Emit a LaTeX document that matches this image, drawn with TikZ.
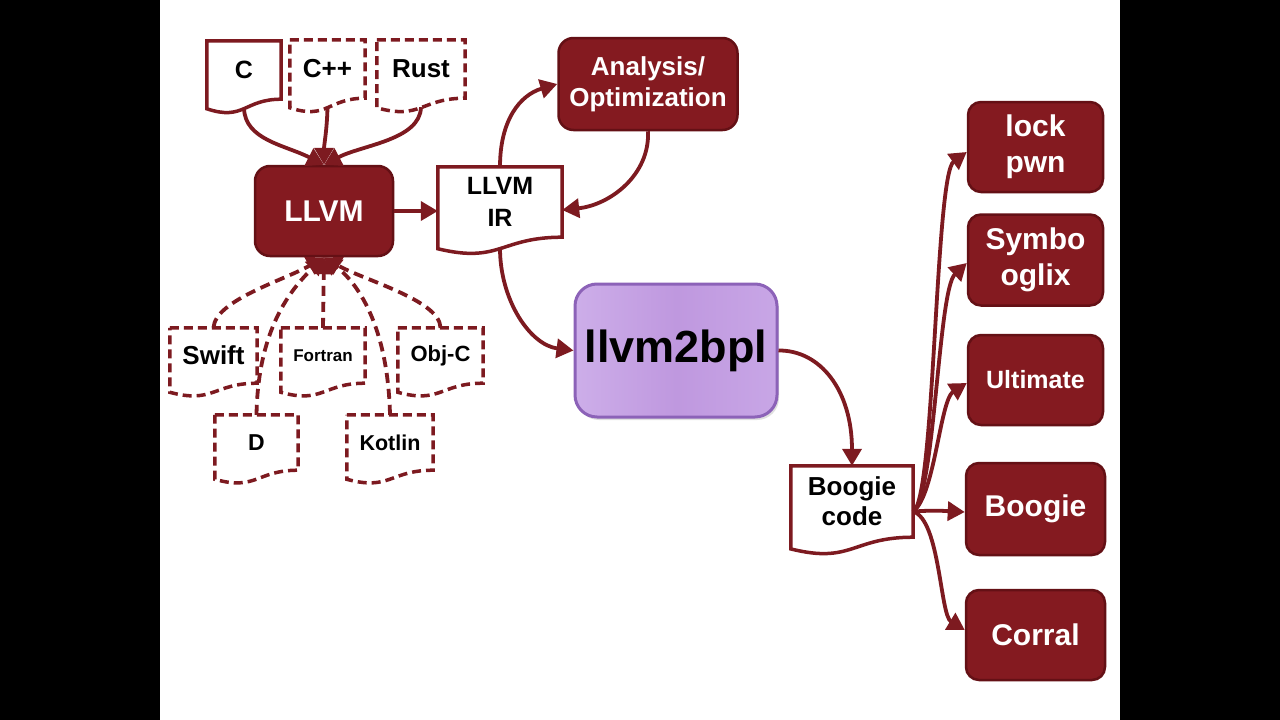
\documentclass[tikz,border=0pt]{standalone}
\usepackage{fontspec}
\setmainfont{Liberation Sans}
\usetikzlibrary{arrows.meta,calc,shadows}
\definecolor{myred}{RGB}{132,26,32}
\definecolor{myredd}{RGB}{100,16,21}
\definecolor{lnred}{RGB}{125,26,32}
\definecolor{pborder}{RGB}{140,98,184}
\definecolor{plight}{RGB}{205,174,233}
\definecolor{pmid}{RGB}{191,152,223}
\definecolor{pright}{RGB}{200,166,230}
\newcommand\fsz[2]{\fontsize{#1}{#2}\selectfont}
% #1 path opts, #2 node opts, #3 name, #4 cx, #5 cy, #6 w, #7 flat height, #8 text
\newcommand\docnode[8]{%
  \node[docn,#2,minimum width=#6pt,minimum height=#7pt] (#3) at (#4,#5) {#8};
  \draw[docline,#1] (#3.north west) -- (#3.north east) -- (#3.south east)
    .. controls (#3.south) and ([yshift=-0.38*#7pt]#3.south) .. ([yshift=-0.165*#7pt]#3.south west) -- cycle;
}
\begin{document}
\begin{tikzpicture}[x=1pt,y=-1pt,
  tool/.style={draw=myredd, fill=myred, line width=2.5pt, rounded corners=13pt, text=white,
    font=\bfseries\fsz{30}{36}, align=center, inner sep=0pt, minimum width=135pt, minimum height=90pt},
  docn/.style={inner sep=0pt, align=center, font=\bfseries\fsz{26}{31}},
  docline/.style={draw=lnred, line width=3.5pt},
  dsh/.style={dash pattern=on 9pt off 5pt},
  conn/.style={draw=lnred, line width=3.8pt, -{Triangle[length=17pt,width=19pt]}},
  dconn/.style={conn, dash pattern=on 10pt off 6pt}]
\useasboundingbox (0,0) rectangle (1280,720);
\fill[black] (0,0) rectangle (1280,720);
\fill[white] (160,0) rectangle (1120,720);

% documents
\docnode{}{font=\bfseries\fsz{25}{30}}{C}{244}{70}{74}{58}{C}
\docnode{dsh}{}{Cpp}{327.5}{69}{75}{58}{C++}
\docnode{dsh}{}{Rust}{421}{69}{88}{58}{Rust}
\docnode{dsh}{}{Swift}{213.5}{355.5}{87}{55}{Swift}
\docnode{dsh}{font=\bfseries\fsz{17}{20}}{Fortran}{323}{355.5}{84}{55}{Fortran}
\docnode{dsh}{font=\bfseries\fsz{22}{26}}{ObjC}{440.5}{355.5}{85}{55}{Obj-C}
\docnode{dsh}{font=\bfseries\fsz{23}{28}}{D}{256.5}{442.5}{83}{55}{D}
\docnode{dsh}{font=\bfseries\fsz{21.5}{26}}{Kotlin}{390}{442.5}{86}{55}{Kotlin}
\docnode{}{font=\bfseries\fsz{25}{32}}{IR}{500}{202}{124}{70}{LLVM\\IR}
\docnode{}{font=\bfseries\fsz{26}{30}}{BC}{852}{501.5}{122}{71}{Boogie\\code}

% filled boxes
\node[tool, minimum width=138pt, rounded corners=15pt] (LLVM) at (324,211) {LLVM};
\node[tool, minimum width=179pt, minimum height=92pt, rounded corners=15pt,
  font=\bfseries\fsz{26}{31}] (AO) at (648,84) {Analysis/\\Optimization};
\node[tool] (LP) at (1035.5,147) {lock\\pwn};
\node[tool, minimum height=91pt] (SY) at (1035.5,260) {Symbo\\oglix};
\node[tool, font=\bfseries\fsz{25}{30}] (UL) at (1035.5,380) {Ultimate};
\node[tool, minimum width=139pt, minimum height=92pt] (BO) at (1035.5,509) {Boogie};
\node[tool, minimum width=139pt] (CO) at (1035.5,635) {Corral};

\node[draw=pborder, line width=3pt, rounded corners=22pt, left color=plight, right color=pright,
  middle color=pmid, minimum width=202pt, minimum height=133pt, inner sep=0pt,
  font=\bfseries\fsz{45}{54},
  drop shadow={opacity=0.25, shadow xshift=2pt, shadow yshift=-3pt}] (L2B) at (676,350.5) {llvm2bpl};

% connectors into LLVM
\draw[conn] ([yshift=-9pt]C.south) .. controls (245,140) and (285,145) .. (LLVM.north);
\draw[conn] ([yshift=-9pt]Cpp.south) .. controls (327,130) and (324,145) .. (LLVM.north);
\draw[conn] ([yshift=-9pt]Rust.south) .. controls (420,140) and (362,145) .. (LLVM.north);
\draw[dconn] (Swift.north) .. controls (215,300) and (285,280) .. (LLVM.south);
\draw[dconn] (Fortran.north) -- (LLVM.south);
\draw[dconn] (ObjC.north) .. controls (440,300) and (363,280) .. (LLVM.south);
\draw[dconn] (D.north) .. controls (258,330) and (290,290) .. (LLVM.south);
\draw[dconn] (Kotlin.north) .. controls (388,330) and (360,285) .. (LLVM.south);

% middle flow
\draw[conn] (LLVM.east) -- (LLVM.east -| IR.west);
\draw[conn] (IR.north) .. controls (500,120) and (520,95) .. (AO.west);
\draw[conn] (AO.south) .. controls (650,175) and (610,205) .. ([yshift=-8pt]IR.east);
\draw[conn] ([yshift=-11pt]IR.south) .. controls (500,300) and (530,345) .. (L2B.west);
\draw[conn] (L2B.east) .. controls (820,350) and (852,390) .. (BC.north);

% fan out
\draw[conn] ([yshift=-10pt]BC.east) .. controls (935,500) and (935,175) .. ([yshift=-5pt]LP.west);
\draw[conn] ([yshift=-10pt]BC.east) .. controls (935,495) and (938,290) .. ([yshift=-3pt]SY.west);
\draw[conn] ([yshift=-10pt]BC.east) .. controls (935,495) and (940,400) .. ([yshift=-3pt]UL.west);
\draw[conn] ([yshift=-10pt]BC.east) .. controls (935,510) and (945,511) .. ([yshift=-3pt]BO.west);
\draw[conn] ([yshift=-10pt]BC.east) .. controls (940,520) and (940,615) .. ([yshift=5pt]CO.west);
\end{tikzpicture}
\end{document}
